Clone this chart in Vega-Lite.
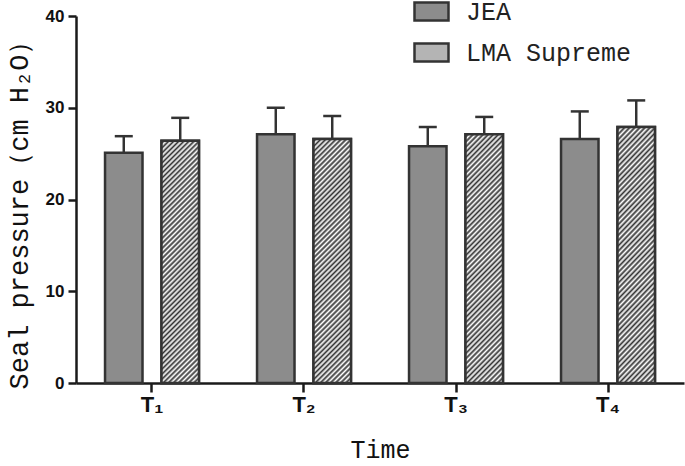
{
  "$schema": "https://vega.github.io/schema/vega-lite/v6.json",
  "width": 608,
  "height": 367,
  "autosize": {"type": "none"},
  "padding": {"left": 76, "top": 16, "right": 1, "bottom": 83},
  "background": "white",
  "config": {"view": {"stroke": null}},
  "data": {
    "values": [
      {"Time": "T₁", "Group": "JEA", "Mean": 25.1, "Upper": 26.9},
      {"Time": "T₁", "Group": "LMA Supreme", "Mean": 26.4, "Upper": 28.9},
      {"Time": "T₂", "Group": "JEA", "Mean": 27.1, "Upper": 30.0},
      {"Time": "T₂", "Group": "LMA Supreme", "Mean": 26.6, "Upper": 29.1},
      {"Time": "T₃", "Group": "JEA", "Mean": 25.8, "Upper": 27.9},
      {"Time": "T₃", "Group": "LMA Supreme", "Mean": 27.1, "Upper": 29.0},
      {"Time": "T₄", "Group": "JEA", "Mean": 26.6, "Upper": 29.6},
      {"Time": "T₄", "Group": "LMA Supreme", "Mean": 27.9, "Upper": 30.8}
    ]
  },
  "encoding": {
    "x": {
      "field": "Time", "type": "nominal", "sort": null,
      "scale": {"paddingInner": 0.382, "paddingOuter": 0.191},
      "axis": {
        "title": "Time", "labelAngle": 0,
        "labelFont": "Liberation Sans", "labelFontWeight": "bold", "labelFontSize": 22, "labelColor": "#111",
        "labelPadding": 2,
        "domainColor": "#1a1a1a", "domainWidth": 2.5,
        "tickColor": "#1a1a1a", "tickWidth": 2.5, "tickSize": 9,
        "titleFont": "Liberation Mono", "titleFontWeight": "normal", "titleFontSize": 25, "titleColor": "#111",
        "titlePadding": 22
      }
    },
    "xOffset": {
      "field": "Group", "type": "nominal", "sort": ["JEA", "LMA Supreme"],
      "scale": {"paddingInner": 0.336, "paddingOuter": 0}
    }
  },
  "layer": [
    {
      "mark": {"type": "bar", "strokeWidth": 2.5},
      "encoding": {
        "y": {
          "field": "Mean", "type": "quantitative",
          "scale": {"domain": [0, 40], "nice": false},
          "axis": {
            "title": "Seal pressure（cm H₂O）", "values": [0, 10, 20, 30, 40], "grid": false,
            "labelFont": "Liberation Sans", "labelFontWeight": "bold", "labelFontSize": 17, "labelColor": "#111",
            "labelPadding": 4,
            "domainColor": "#1a1a1a", "domainWidth": 2.5,
            "tickColor": "#1a1a1a", "tickWidth": 2.5, "tickSize": 8,
            "titleFont": "Liberation Mono", "titleFontWeight": "normal", "titleFontSize": 27, "titleColor": "#111",
            "titlePadding": 12, "titleY": 192
          }
        },
        "fill": {
          "field": "Group", "type": "nominal",
          "scale": {"domain": ["JEA", "LMA Supreme"], "range": ["#8c8c8c", "#b4b4b4"]},
          "legend": {
            "title": null, "orient": "none", "legendX": 337, "legendY": -23,
            "symbolType": "M-1,-0.53L1,-0.53L1,0.53L-1,0.53Z", "symbolSize": 1156,
            "symbolStrokeWidth": 2.5,
            "labelFont": "Liberation Mono", "labelFontSize": 25, "labelColor": "#222",
            "labelOffset": 16, "rowPadding": 8, "labelLimit": 400
          }
        },
        "stroke": {
          "field": "Group", "type": "nominal",
          "scale": {"domain": ["JEA", "LMA Supreme"], "range": ["#333333", "#333333"]},
          "legend": {
            "title": null, "orient": "none", "legendX": 337, "legendY": -23,
            "symbolType": "M-1,-0.53L1,-0.53L1,0.53L-1,0.53Z", "symbolSize": 1156,
            "symbolStrokeWidth": 2.5,
            "labelFont": "Liberation Mono", "labelFontSize": 25, "labelColor": "#222",
            "labelOffset": 16, "rowPadding": 8, "labelLimit": 400
          }
        }
      }
    },
    {
      "transform": [{"filter": "datum.Group === 'LMA Supreme'"}],
      "mark": {
        "type": "bar", "stroke": "#333333", "strokeWidth": 2.5,
        "fill": {"gradient": "linear", "x1": 0, "y1": 0, "x2": 0.1726, "y2": 1.127, "stops": [
          {"offset": 0, "color": "#ffffff"}, {"offset": 0.009, "color": "#333333"},
          {"offset": 0.018, "color": "#ffffff"}, {"offset": 0.027, "color": "#333333"},
          {"offset": 0.036, "color": "#ffffff"}, {"offset": 0.045, "color": "#333333"},
          {"offset": 0.054, "color": "#ffffff"}, {"offset": 0.063, "color": "#333333"},
          {"offset": 0.072, "color": "#ffffff"}, {"offset": 0.081, "color": "#333333"},
          {"offset": 0.09, "color": "#ffffff"}, {"offset": 0.099, "color": "#333333"},
          {"offset": 0.108, "color": "#ffffff"}, {"offset": 0.117, "color": "#333333"},
          {"offset": 0.126, "color": "#ffffff"}, {"offset": 0.135, "color": "#333333"},
          {"offset": 0.144, "color": "#ffffff"}, {"offset": 0.153, "color": "#333333"},
          {"offset": 0.162, "color": "#ffffff"}, {"offset": 0.171, "color": "#333333"},
          {"offset": 0.18, "color": "#ffffff"}, {"offset": 0.189, "color": "#333333"},
          {"offset": 0.198, "color": "#ffffff"}, {"offset": 0.207, "color": "#333333"},
          {"offset": 0.216, "color": "#ffffff"}, {"offset": 0.225, "color": "#333333"},
          {"offset": 0.234, "color": "#ffffff"}, {"offset": 0.243, "color": "#333333"},
          {"offset": 0.252, "color": "#ffffff"}, {"offset": 0.261, "color": "#333333"},
          {"offset": 0.27, "color": "#ffffff"}, {"offset": 0.279, "color": "#333333"},
          {"offset": 0.288, "color": "#ffffff"}, {"offset": 0.297, "color": "#333333"},
          {"offset": 0.306, "color": "#ffffff"}, {"offset": 0.315, "color": "#333333"},
          {"offset": 0.324, "color": "#ffffff"}, {"offset": 0.333, "color": "#333333"},
          {"offset": 0.342, "color": "#ffffff"}, {"offset": 0.351, "color": "#333333"},
          {"offset": 0.36, "color": "#ffffff"}, {"offset": 0.369, "color": "#333333"},
          {"offset": 0.378, "color": "#ffffff"}, {"offset": 0.387, "color": "#333333"},
          {"offset": 0.396, "color": "#ffffff"}, {"offset": 0.405, "color": "#333333"},
          {"offset": 0.414, "color": "#ffffff"}, {"offset": 0.423, "color": "#333333"},
          {"offset": 0.432, "color": "#ffffff"}, {"offset": 0.441, "color": "#333333"},
          {"offset": 0.45, "color": "#ffffff"}, {"offset": 0.459, "color": "#333333"},
          {"offset": 0.468, "color": "#ffffff"}, {"offset": 0.477, "color": "#333333"},
          {"offset": 0.486, "color": "#ffffff"}, {"offset": 0.495, "color": "#333333"},
          {"offset": 0.504, "color": "#ffffff"}, {"offset": 0.513, "color": "#333333"},
          {"offset": 0.522, "color": "#ffffff"}, {"offset": 0.531, "color": "#333333"},
          {"offset": 0.54, "color": "#ffffff"}, {"offset": 0.549, "color": "#333333"},
          {"offset": 0.558, "color": "#ffffff"}, {"offset": 0.567, "color": "#333333"},
          {"offset": 0.576, "color": "#ffffff"}, {"offset": 0.585, "color": "#333333"},
          {"offset": 0.594, "color": "#ffffff"}, {"offset": 0.603, "color": "#333333"},
          {"offset": 0.612, "color": "#ffffff"}, {"offset": 0.621, "color": "#333333"},
          {"offset": 0.63, "color": "#ffffff"}, {"offset": 0.639, "color": "#333333"},
          {"offset": 0.648, "color": "#ffffff"}, {"offset": 0.657, "color": "#333333"},
          {"offset": 0.666, "color": "#ffffff"}, {"offset": 0.675, "color": "#333333"},
          {"offset": 0.684, "color": "#ffffff"}, {"offset": 0.693, "color": "#333333"},
          {"offset": 0.702, "color": "#ffffff"}, {"offset": 0.711, "color": "#333333"},
          {"offset": 0.72, "color": "#ffffff"}, {"offset": 0.729, "color": "#333333"},
          {"offset": 0.738, "color": "#ffffff"}, {"offset": 0.747, "color": "#333333"},
          {"offset": 0.756, "color": "#ffffff"}, {"offset": 0.765, "color": "#333333"},
          {"offset": 0.774, "color": "#ffffff"}, {"offset": 0.783, "color": "#333333"},
          {"offset": 0.792, "color": "#ffffff"}, {"offset": 0.801, "color": "#333333"},
          {"offset": 0.81, "color": "#ffffff"}, {"offset": 0.819, "color": "#333333"},
          {"offset": 0.828, "color": "#ffffff"}, {"offset": 0.837, "color": "#333333"},
          {"offset": 0.846, "color": "#ffffff"}, {"offset": 0.855, "color": "#333333"},
          {"offset": 0.864, "color": "#ffffff"}, {"offset": 0.873, "color": "#333333"},
          {"offset": 0.882, "color": "#ffffff"}, {"offset": 0.891, "color": "#333333"},
          {"offset": 0.9, "color": "#ffffff"}, {"offset": 0.909, "color": "#333333"},
          {"offset": 0.918, "color": "#ffffff"}, {"offset": 0.927, "color": "#333333"},
          {"offset": 0.936, "color": "#ffffff"}, {"offset": 0.945, "color": "#333333"},
          {"offset": 0.954, "color": "#ffffff"}, {"offset": 0.963, "color": "#333333"},
          {"offset": 0.972, "color": "#ffffff"}, {"offset": 0.981, "color": "#333333"},
          {"offset": 0.99, "color": "#ffffff"}, {"offset": 0.999, "color": "#333333"},
          {"offset": 1, "color": "#ffffff"}
        ]}
      },
      "encoding": {
        "y": {"field": "Mean", "type": "quantitative"}
      }
    },
    {
      "mark": {"type": "rule", "stroke": "#333333", "strokeWidth": 2.5},
      "encoding": {
        "y": {"field": "Mean", "type": "quantitative"},
        "y2": {"field": "Upper"}
      }
    },
    {
      "mark": {"type": "tick", "orient": "horizontal", "color": "#333333", "size": 18, "thickness": 2.5, "opacity": 1},
      "encoding": {
        "y": {"field": "Upper", "type": "quantitative"}
      }
    }
  ]
}
